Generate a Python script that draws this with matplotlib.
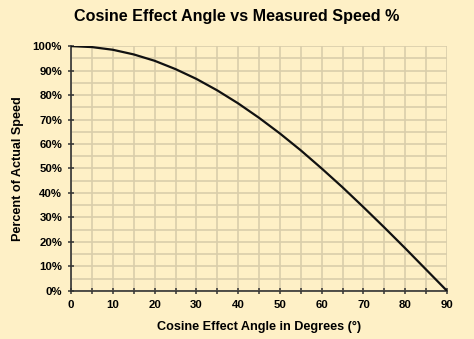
import matplotlib
matplotlib.use("Agg")
import matplotlib.pyplot as plt
from matplotlib.ticker import MultipleLocator, FuncFormatter

angles = [0, 5, 10, 15, 20, 25, 30, 35, 40, 45, 50, 55, 60, 65, 70, 75, 80, 85, 90]
percent = [100, 99.6, 98.5, 96.6, 94.0, 90.6, 86.6, 81.9, 76.6, 70.7, 64.3, 57.4,
           50.0, 42.3, 34.2, 25.9, 17.4, 8.7, 0]
title = "Cosine Effect Angle vs Measured Speed %"
xlabel = "Cosine Effect Angle in Degrees (°)"
ylabel = "Percent of Actual Speed"

bg = "#fef0c6"
grid_c = "#d9ceab"

plt.rcParams['font.family'] = ['Liberation Sans', 'DejaVu Sans']
plt.rcParams['font.weight'] = 'bold'

fig = plt.figure(figsize=(4.74, 3.39), dpi=100, facecolor=bg)
ax = fig.add_axes([0.150, 0.142, 0.793, 0.722], facecolor=bg)

ax.plot(angles, percent, color="#111111", lw=1.6, zorder=3)

ax.set_xlim(0, 90)
ax.set_ylim(0, 100)
ax.xaxis.set_major_locator(MultipleLocator(10))
ax.xaxis.set_minor_locator(MultipleLocator(5))
ax.yaxis.set_major_locator(MultipleLocator(10))
ax.yaxis.set_minor_locator(MultipleLocator(5))
ax.yaxis.set_major_formatter(FuncFormatter(lambda v, p: f"{int(v)}%"))

ax.grid(True, which='both', color=grid_c, lw=1.2, zorder=0)
for s in ['top', 'right']:
    ax.spines[s].set_visible(False)
for s in ['left', 'bottom']:
    ax.spines[s].set_color("#333333")
    ax.spines[s].set_linewidth(1.2)

ax.tick_params(axis='both', which='both', direction='inout', length=5, width=1.1,
               color="#333333", labelsize=8.2, pad=4)
ax.tick_params(axis='y', which='minor', length=0)
for lab in ax.get_xticklabels() + ax.get_yticklabels():
    lab.set_fontweight('bold')

fig.text(0.5, 0.951, title, ha='center', va='center', fontsize=11.6, fontweight='bold')
ax.set_xlabel(xlabel, fontsize=9.1, fontweight='bold', labelpad=8)
ax.set_ylabel(ylabel, fontsize=9.1, fontweight='bold', labelpad=6)

fig.savefig("out.png", dpi=100, facecolor=bg)
